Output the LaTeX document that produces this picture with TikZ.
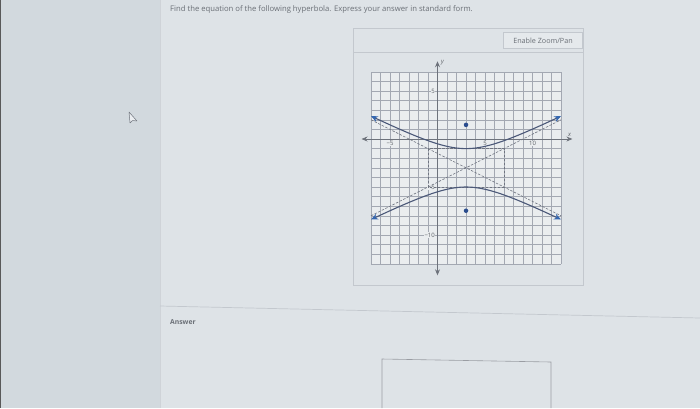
\documentclass[tikz,border=0pt]{standalone}
\usepackage{fontspec}
\setmainfont{Open Sans}
\usetikzlibrary{arrows.meta}
\definecolor{bgmain}{HTML}{DEE3E7}
\definecolor{bgside}{HTML}{D2D9DE}
\definecolor{panelline}{HTML}{C3C8CE}
\definecolor{gridc}{HTML}{A3A8B2}
\definecolor{axisc}{HTML}{6E737C}
\definecolor{curvec}{HTML}{4B5878}
\definecolor{tipc}{HTML}{3567B0}
\definecolor{dotc}{HTML}{2A4C8E}
\definecolor{txtc}{HTML}{6A6F76}
\definecolor{dashc}{HTML}{6F7480}
\tikzset{
  lbl/.style={font=\fontsize{6}{6.5}\selectfont, text=txtc!85!black, inner sep=0.6pt, fill=white!35!bgmain},
  curve/.style={draw=curvec, line width=1.1pt, {Stealth[length=7pt,width=6pt,color=tipc]}-{Stealth[length=7pt,width=6pt,color=tipc]}},
  asym/.style={draw=dashc, line width=0.6pt, dash pattern=on 2.5pt off 1.5pt},
  axisline/.style={draw=axisc, line width=0.8pt, {Stealth[length=6pt,width=5pt]}-{Stealth[length=6pt,width=5pt]}},
  focus/.style={circle, fill=dotc, inner sep=0pt, minimum size=4.5pt}
}
\begin{document}
\begin{tikzpicture}[x=1pt,y=-1pt]
\useasboundingbox (0,0) rectangle (700,408);
% backgrounds
\fill[bgmain] (0,0) rectangle (700,408);
\fill[bgside] (0,0) rectangle (160,408);
\fill[black!65] (0,0) rectangle (1.2,408);
\draw[panelline!80!white, line width=0.6pt] (160,0) -- (160,408);
% title
\node[anchor=base west, font=\fontsize{7.7}{8}\selectfont, text=txtc, inner sep=0pt] (title) at (170,11) {Find the equation of the following hyperbola. Express your answer in standard form.};
% graph panel
\draw[panelline, line width=0.7pt] (353,28) rectangle (583,285);
\draw[panelline, line width=0.7pt] (353,52) -- (583,52);
\node[draw=panelline, line width=0.6pt, fill=bgmain!80!white, minimum width=79pt, minimum height=16pt, font=\fontsize{7.2}{8}\selectfont, text=txtc, inner sep=0pt] (btn) at (543,40.5) {Enable Zoom/Pan};
% graph
\begin{scope}[shift={(437.5,139)}, x=9.5pt, y=9.6pt]
  \fill[white!35!bgmain] (-7,-13) rectangle (13,7);
  \foreach \i in {-7,...,13} \draw[gridc, line width=0.5pt] (\i,-13) -- (\i,7);
  \foreach \j in {-13,...,7} \draw[gridc, line width=0.5pt] (-7,\j) -- (13,\j);
  % labels
  \node[lbl, anchor=north] (lm5) at (-5,-0.15) {−5};
  \node[lbl, anchor=north] (l5) at (5,-0.15) {5};
  \node[lbl, anchor=north] (l10) at (10,-0.15) {10};
  \node[lbl, anchor=east] (ly5) at (-0.2,5) {5};
  \node[lbl, anchor=east] (lym5) at (-0.2,-5) {−5};
  \node[lbl, anchor=east] (lym10) at (-0.2,-10) {−10};
  \draw[axisline] (-8,0) -- (14.2,0);
  \draw[axisline] (0,8.1) -- (0,-14.2);
  % dashed box and asymptotes
  \draw[asym] (-1,-1) rectangle (7,-5);
  \draw[asym] (-7,2) -- (13,-8);
  \draw[asym] (-7,-8) -- (13,2);
  % hyperbola
  \draw[curve] plot[domain=-7:13, samples=80, smooth] (\x, {-3+2*sqrt(1+((\x-3)/4)^2)});
  \draw[curve] plot[domain=-7:13, samples=80, smooth] (\x, {-3-2*sqrt(1+((\x-3)/4)^2)});
  % foci
  \node[focus] (f1) at (3,1.472) {};
  \node[focus] (f2) at (3,-7.472) {};
  \node[lbl, fill=none, anchor=south west] (ly) at (0.3,7.6) {\itshape y};
  \node[lbl, fill=none, anchor=south] (lx) at (13.9,0.2) {\itshape x};
\end{scope}
% cursor
\draw[axisc, fill=bgmain!60!white, line width=0.5pt, line join=round] (129,112) -- (130,123) -- (132.5,120.5) -- (137,121) -- cycle;
% answer section
\draw[panelline, line width=0.7pt] (160,306) -- (700,318);
\node[anchor=base west, font=\fontsize{6.8}{8}\selectfont\bfseries, text=txtc, inner sep=0pt] (ans) at (170,324) {Answer};
\draw[axisc!70!white, line width=0.6pt] (382,408) -- (382,359) -- (551,362) -- (551,408);
\end{tikzpicture}
\end{document}
